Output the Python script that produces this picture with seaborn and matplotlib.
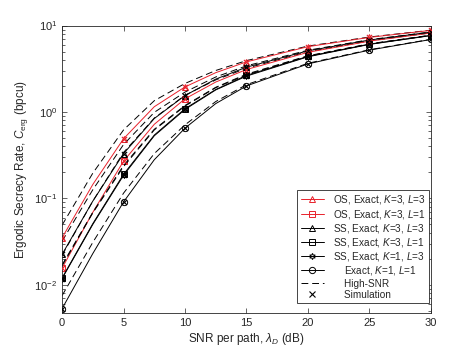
import numpy as np
import pandas as pd
import matplotlib
matplotlib.use('Agg')
import matplotlib.pyplot as plt
import seaborn as sns
from matplotlib.lines import Line2D
from matplotlib.ticker import LogLocator, NullFormatter

sns.set_style('ticks')
plt.rcParams['font.family'] = ['Liberation Sans', 'DejaVu Sans']
plt.rcParams['mathtext.fontset'] = 'custom'
plt.rcParams['mathtext.rm'] = 'Liberation Sans'
plt.rcParams['mathtext.it'] = 'Liberation Sans:italic'

# SNR grid of the exact / high-SNR curves, markers every 5 dB
snr = [0, 2.5, 5, 7.5, 10, 12.5, 15, 20, 25, 30]
mark_idx = [0, 2, 4, 6, 7, 8, 9]

os_k3l3 = [0.035, 0.145, 0.49, 1.15, 1.95, 2.85, 3.8, 5.7, 7.3, 8.8]
os_k3l1 = [0.0156, 0.069, 0.27, 0.72, 1.42, 2.22, 3.1, 4.9, 6.6, 8.2]
ss_k3l3 = [0.0225, 0.093, 0.33, 0.84, 1.55, 2.4, 3.3, 5.1, 6.8, 8.4]
ss_k3l1 = [0.012, 0.051, 0.19, 0.54, 1.09, 1.82, 2.65, 4.4, 6.1, 7.7]
ss_k1l3 = [0.0118, 0.050, 0.185, 0.53, 1.07, 1.80, 2.6, 4.35, 6.05, 7.65]
ex_k1l1 = [0.0053, 0.023, 0.091, 0.28, 0.65, 1.25, 2.0, 3.6, 5.2, 6.9]

hs_os_k3l3 = [0.049, 0.196, 0.62, 1.35, 2.14, 3.02, 3.93, 5.79, 7.37, 8.84]
hs_os_k3l1 = [0.022, 0.093, 0.34, 0.85, 1.56, 2.35, 3.21, 4.98, 6.66, 8.24]
hs_ss_k3l3 = [0.032, 0.126, 0.42, 0.99, 1.70, 2.54, 3.42, 5.18, 6.86, 8.44]
hs_ss_k3l1 = [0.017, 0.069, 0.24, 0.63, 1.19, 1.93, 2.74, 4.47, 6.15, 7.74]
hs_ss_k1l3 = [0.0166, 0.068, 0.233, 0.62, 1.17, 1.91, 2.69, 4.42, 6.10, 7.69]
hs_ex_k1l1 = [0.0075, 0.031, 0.115, 0.33, 0.71, 1.32, 2.07, 3.66, 5.25, 6.93]

labels = [r'OS, Exact, $K$=$3$, $L$=$3$',
          r'OS, Exact, $K$=$3$, $L$=$1$',
          r'SS, Exact, $K$=$3$, $L$=$3$',
          r'SS, Exact, $K$=$3$, $L$=$1$',
          r'SS, Exact, $K$=$1$, $L$=$3$',
          r'    Exact, $K$=$1$, $L$=$1$',
          '    High-SNR',
          '    Simulation']
exact = [os_k3l3, os_k3l1, ss_k3l3, ss_k3l1, ss_k1l3, ex_k1l1]
highsnr = [hs_os_k3l3, hs_os_k3l1, hs_ss_k3l3, hs_ss_k3l1, hs_ss_k1l3, hs_ex_k1l1]

red = '#e8212b'
colors = [red, red, 'black', 'black', 'black', 'black']
markers = ['^', 's', '^', 's', (6, 1, 0), 'o']
dash = (0, (7, 4))

fig = plt.figure(figsize=(4.74, 3.55), dpi=100)
ax = fig.add_axes([0.131, 0.118, 0.778, 0.810])

for y_ex, y_hs, c, m in zip(exact, highsnr, colors, markers):
    sns.lineplot(x=snr, y=y_hs, ax=ax, color='black', lw=0.7,
                 linestyle=dash, sort=False)
    sns.lineplot(x=snr, y=y_ex, ax=ax, color=c, lw=0.7, sort=False,
                 marker=m, markevery=mark_idx, ms=4.5, mfc='none', mec=c, mew=0.7)
    sim = pd.DataFrame({'snr': [snr[i] for i in mark_idx],
                        'val': [y_ex[i] for i in mark_idx]})
    sns.scatterplot(data=sim, x='snr', y='val', ax=ax, marker='x', color=c,
                    s=14, linewidth=0.8, zorder=5)

ax.set_yscale('log')
ax.set_xlim(0, 30)
ax.set_ylim(0.0047, 10)
ax.set_xticks([0, 5, 10, 15, 20, 25, 30])
ax.yaxis.set_major_locator(LogLocator(base=10, numticks=10))
ax.yaxis.set_minor_locator(LogLocator(base=10, subs=np.arange(2, 10), numticks=20))
ax.yaxis.set_minor_formatter(NullFormatter())

axis_col = '#262626'
for sp in ax.spines.values():
    sp.set_visible(True)
    sp.set_color(axis_col)
    sp.set_linewidth(0.6)
ax.tick_params(which='both', direction='in', top=True, right=True,
               colors=axis_col, labelsize=8, width=0.5)
ax.tick_params(which='major', length=3.5)
ax.tick_params(which='minor', length=2)

ax.set_xlabel(r'SNR per path, $\lambda_D$ (dB)', fontsize=8.5, color=axis_col, labelpad=2)
ax.set_ylabel(r'Ergodic Secrecy Rate, $C_{\mathrm{erg}}$ (bpcu)', fontsize=8.5,
              color=axis_col, labelpad=3)

handles = [Line2D([], [], color=c, lw=0.7, marker=m, ms=4.5, mfc='none', mec=c, mew=0.7)
           for c, m in zip(colors, markers)]
handles.append(Line2D([], [], color='black', lw=0.7, linestyle=dash))
handles.append(Line2D([], [], color='black', lw=0, marker='x', ms=4, mew=0.8))
leg = ax.legend(handles, labels, loc='lower right',
                fontsize=7.2, frameon=True, fancybox=False, framealpha=1,
                edgecolor=axis_col, handlelength=2.3, handletextpad=0.9,
                labelspacing=0.12, borderpad=0.35, borderaxespad=0,
                bbox_to_anchor=(0.995, 0.034))
leg.get_frame().set_linewidth(0.6)

fig.savefig('out.png', dpi=100, facecolor='white')
